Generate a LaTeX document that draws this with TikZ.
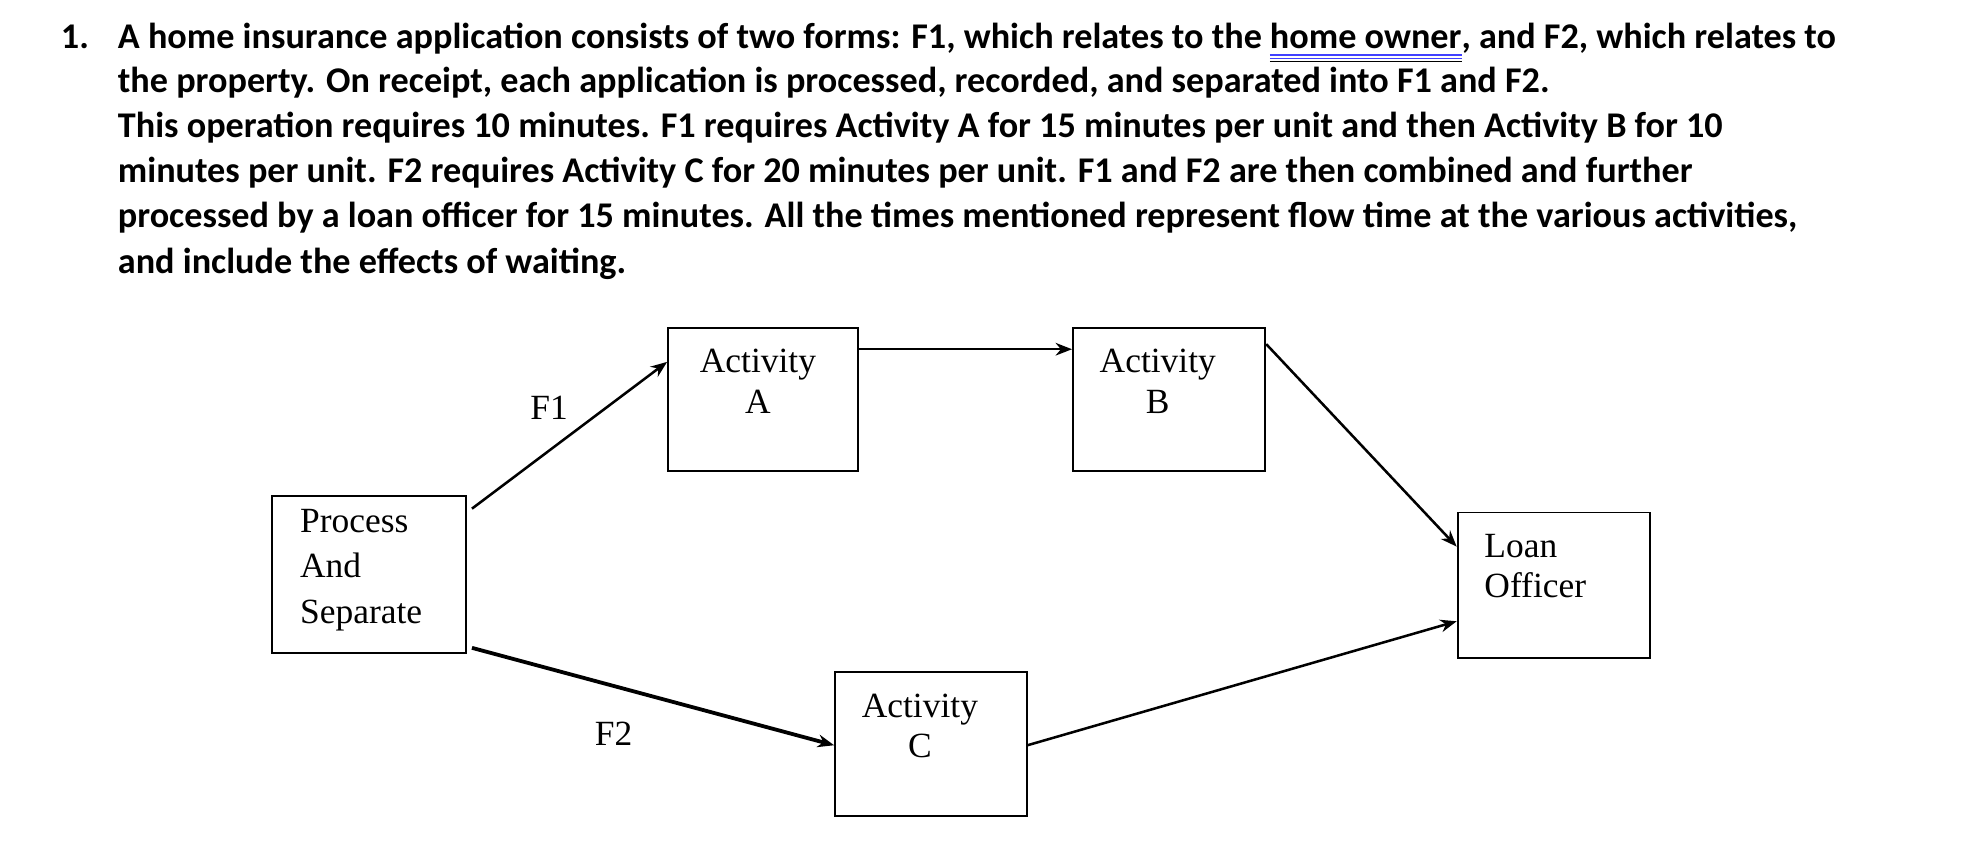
\documentclass[tikz,border=0pt]{standalone}
\usepackage{fontspec}
\setmainfont{Liberation Serif}
\newfontfamily\calib{Carlito}
\usetikzlibrary{arrows.meta}
\newcommand\bluline[1]{\setbox0\hbox{#1}\rlap{\raisebox{-6pt}{\color{blue!75}\rule{\wd0}{1.2pt}}}\rlap{\raisebox{-9pt}{\color{blue!75}\rule{\wd0}{1.2pt}}}#1}
\tikzset{
  txt/.style={anchor=base west, inner sep=0pt, font=\calib\bfseries\fontsize{28.6}{34}\selectfont},
  bx/.style={draw, line width=1.5pt, inner sep=0pt},
  lbl/.style={inner sep=0pt, font=\fontsize{28}{32}\selectfont, align=center},
  arr/.style={line width=2pt, -{Stealth[length=13pt,width=10pt]}},
}
\begin{document}
\begin{tikzpicture}[x=1pt,y=-1pt]
\useasboundingbox (0,0) rectangle (1568,680);
\node[txt] (n1) at (48,38) {1.};
\node[txt] (l1) at (93,38) {A home insurance application consists of two forms: F1, which relates to the \underline{\bluline{home owner}}, and F2, which relates to};
\node[txt] (l2) at (93,73) {the property. On receipt, each application is processed, recorded, and separated into F1 and F2.};
\node[txt] (l3) at (93,109) {This operation requires 10 minutes. F1 requires Activity A for 15 minutes per unit and then Activity B for 10};
\node[txt] (l4) at (93,144) {minutes per unit. F2 requires Activity C for 20 minutes per unit. F1 and F2 are then combined and further};
\node[txt] (l5) at (93,180) {processed by a loan officer for 15 minutes. All the times mentioned represent flow time at the various activities,};
\node[txt] (l6) at (93,216) {and include the effects of waiting.};

\node[bx, minimum width=153pt, minimum height=124pt] (P) at (291.5,454) {};
\node[lbl, anchor=north west, align=left, font=\fontsize{28}{36}\selectfont] (Pt) at (237,402) {Process\\And\\Separate};
\node[bx, minimum width=150pt, minimum height=113pt] (A) at (603,315.5) {};
\node[lbl, anchor=north] (At) at (599,276) {Activity\\A};
\node[bx, minimum width=152pt, minimum height=113pt] (B) at (924,315.5) {};
\node[lbl, anchor=north] (Bt) at (915,276) {Activity\\B};
\node[bx, minimum width=152pt, minimum height=115pt] (L) at (1228,462.5) {};
\node[lbl, anchor=north west, align=left] (Lt) at (1173,422) {Loan\\Officer};
\node[bx, minimum width=152pt, minimum height=114pt] (C) at (736,588) {};
\node[lbl, anchor=north] (Ct) at (727,548) {Activity\\C};

\coordinate (p1) at (373,402); \coordinate (p2) at (373,512);
\coordinate (c1) at (812,589);
\draw[arr] (p1) -- (A.west |- 0,286);
\draw[arr] (A.east |- 0,276) -- (B.west |- 0,276);
\draw[arr] (B.east |- 0,272) -- (L.west |- 0,432);
\draw[arr, line width=3pt] (p2) -- (C.west |- 0,589);
\draw[arr] (c1) -- (L.west |- 0,491);
\node[lbl] (f1) at (434,322) {F1};
\node[lbl] (f2) at (485,580) {F2};
\end{tikzpicture}
\end{document}
